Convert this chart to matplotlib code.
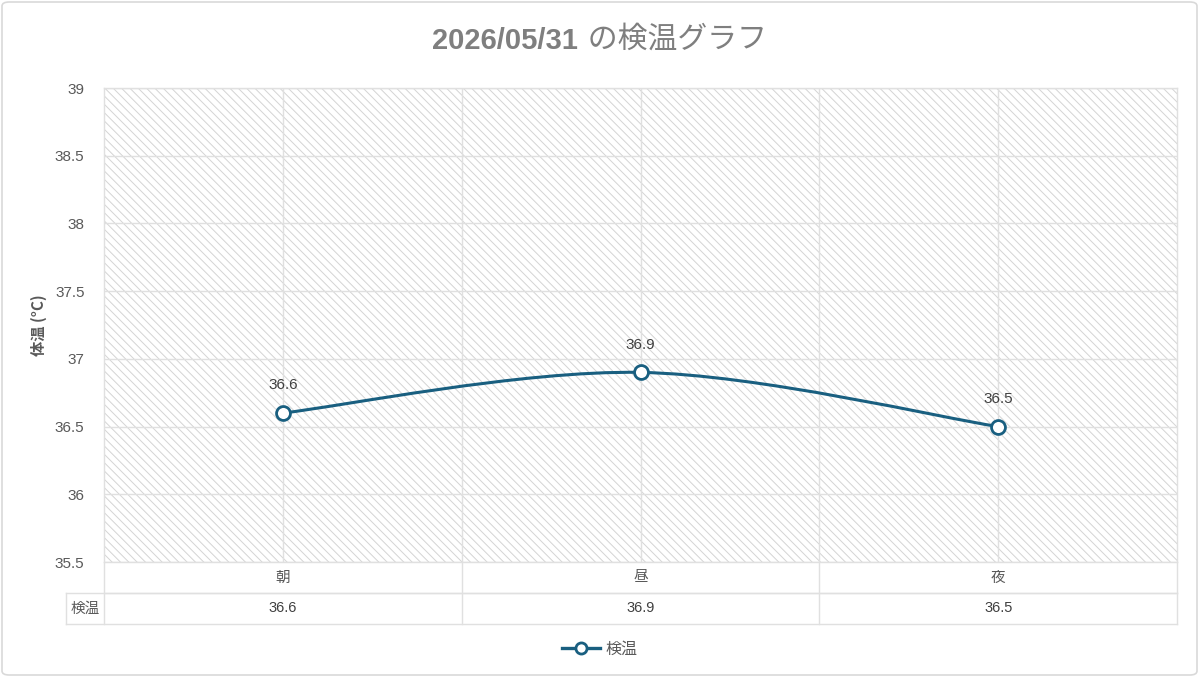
import matplotlib
matplotlib.use("Agg")
from matplotlib import pyplot as plt
from matplotlib.path import Path
from matplotlib.patches import PathPatch, Rectangle, FancyBboxPatch
from matplotlib.lines import Line2D
import matplotlib.transforms as mtransforms

plt.rcParams['font.family'] = ['Liberation Sans', 'Noto Sans CJK JP', 'DejaVu Sans']
plt.rcParams['hatch.linewidth'] = 0.7

# data
categories = ['朝', '昼', '夜']
temps = [36.6, 36.9, 36.5]
series_name = '検温'
title_date = '2026/05/31'
title_rest = ' の検温グラフ'
y_ticks = [35.5, 36, 36.5, 37, 37.5, 38, 38.5, 39]

line_col = '#195f80'
grid_col = '#e0e0e0'
text_col = '#595959'

fig = plt.figure(figsize=(11.99, 6.77), dpi=100)
W, H = 1199, 677

# outer border
fig.patches.append(FancyBboxPatch((2 / W, 2 / H), 1 - 4 / W, 1 - 4 / H,
                                  boxstyle="round,pad=0,rounding_size=0.006",
                                  transform=fig.transFigure, fc='white',
                                  ec='#d9d9d9', lw=1.2, zorder=-5))

ax = fig.add_axes([104 / W, 1 - 562 / H, (1177 - 104) / W, (562 - 88) / H])
ax.set_facecolor('white')
ax.add_patch(Rectangle((0, 0), 1, 1, transform=ax.transAxes, fc='none',
                       ec='#d4d4d4', hatch='\\\\\\\\', lw=0, zorder=0.5))

n = len(categories)
xs = list(range(n))
ax.set_xlim(-0.5, n - 0.5)
ax.set_ylim(y_ticks[0], y_ticks[-1])
ax.set_yticks(y_ticks)
ax.set_yticklabels([f'{t:g}' for t in y_ticks], color=text_col, fontsize=11)
ax.tick_params(axis='y', length=0, pad=14)
ax.set_xticks([])
for s in ax.spines.values():
    s.set_color(grid_col)
    s.set_linewidth(1)

for t in y_ticks:
    ax.axhline(t, color=grid_col, lw=1, zorder=1)
for x in xs:
    ax.axvline(x, color=grid_col, lw=1, zorder=1)
for x in range(n - 1):
    ax.axvline(x + 0.5, color=grid_col, lw=1, zorder=1)

# smoothed line (bezier through the points)
pts = list(zip(xs, temps))
verts = [pts[0]]
codes = [Path.MOVETO]
for i in range(n - 1):
    p0 = pts[i - 1] if i > 0 else pts[i]
    p1 = pts[i]
    p2 = pts[i + 1]
    p3 = pts[i + 2] if i + 2 < n else pts[i + 1]
    c1 = (p1[0] + (p2[0] - p0[0]) / 6, p1[1] + (p2[1] - p0[1]) / 6)
    c2 = (p2[0] - (p3[0] - p1[0]) / 6, p2[1] - (p3[1] - p1[1]) / 6)
    verts += [c1, c2, p2]
    codes += [Path.CURVE4] * 3
ax.add_patch(PathPatch(Path(verts, codes), fill=False, ec=line_col, lw=2.2,
                       zorder=3, capstyle='round'))
ax.plot(xs, temps, ls='none', marker='o', ms=10, mfc='white', mec=line_col,
        mew=2, zorder=4)
for x, v in zip(xs, temps):
    ax.annotate(f'{v:g}', (x, v), xytext=(0, 15), textcoords='offset points',
                ha='center', va='bottom', fontsize=11, color='#404040')

ax.set_ylabel('体温 (°C)', fontsize=11, fontweight='bold', color=text_col,
              labelpad=6, family=['Noto Sans CJK JP', 'DejaVu Sans'])

# data table below the axes
row_h = 31 / (562 - 88)
blend = mtransforms.blended_transform_factory(ax.transData, ax.transAxes)
left_lbl = -0.5 - (104 - 66) / ((1177 - 104) / n)
lk = dict(color=grid_col, lw=1, clip_on=False, transform=blend)
ax.add_line(Line2D([-0.5, n - 0.5], [-row_h, -row_h], **lk))
ax.add_line(Line2D([left_lbl, n - 0.5], [-row_h, -row_h], **lk))
ax.add_line(Line2D([left_lbl, n - 0.5], [-2 * row_h, -2 * row_h], **lk))
for b in range(n + 1):
    ax.add_line(Line2D([b - 0.5, b - 0.5], [0, -2 * row_h], **lk))
ax.add_line(Line2D([left_lbl, left_lbl], [-row_h, -2 * row_h], **lk))
for x, c, v in zip(xs, categories, temps):
    ax.text(x, -0.5 * row_h, c, transform=blend, ha='center', va='center',
            fontsize=10.5, color=text_col)
    ax.text(x, -1.5 * row_h, f'{v:g}', transform=blend, ha='center',
            va='center', fontsize=10.5, color='#404040')
ax.text((left_lbl - 0.5) / 2, -1.5 * row_h, series_name, transform=blend,
        ha='center', va='center', fontsize=10.5, color=text_col)

# legend
leg_handle = Line2D([], [], color=line_col, lw=2.4, marker='o', ms=8,
                    mfc='white', mec=line_col, mew=2)
fig.legend([leg_handle], [series_name], loc='center', bbox_to_anchor=(0.5, 1 - 649 / H),
           frameon=False, fontsize=11.5, labelcolor=text_col, handlelength=2.4,
           handletextpad=0.3)

# title: bold date + regular japanese
t1 = fig.text(432 / W, 1 - 41 / H, title_date, fontsize=21, fontweight='bold',
              color='#7f7f7f', ha='left', va='center')
ax.annotate(title_rest, xy=(1, 0), xycoords=t1, xytext=(2, 0),
            textcoords='offset points', ha='left', va='bottom', fontsize=21.5,
            color='#7f7f7f', family=['Noto Sans CJK JP', 'DejaVu Sans'],
            annotation_clip=False)

fig.savefig('out.png', dpi=100)
